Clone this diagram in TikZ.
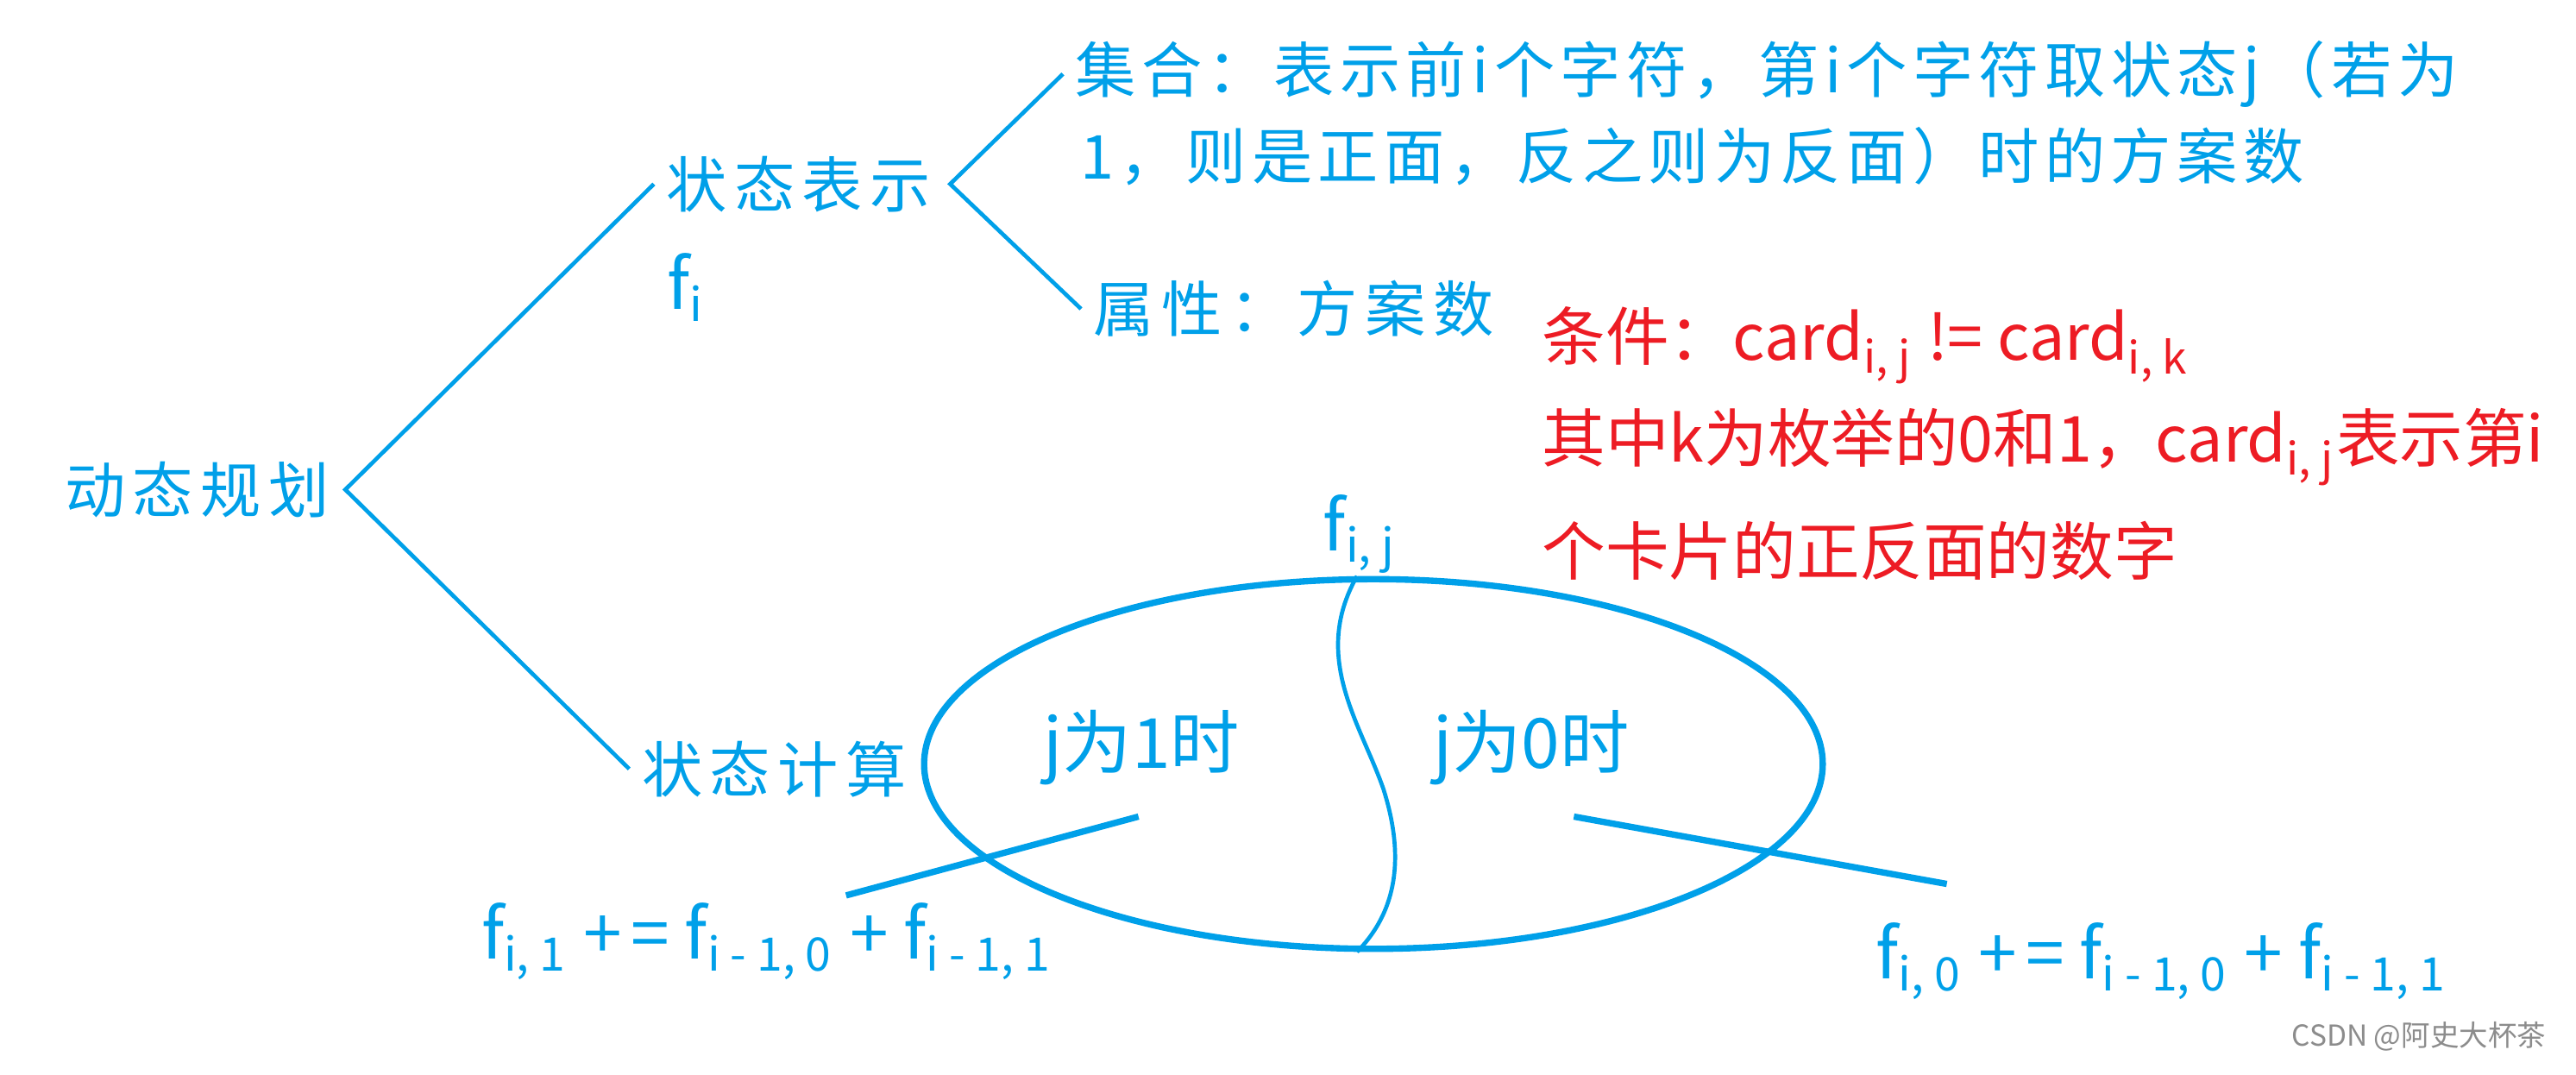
\documentclass[tikz,border=0pt]{standalone}
\usepackage{fontspec}
\setmainfont{Noto Sans CJK SC}
\newfontfamily\kai[LetterSpace=12]{Noto Sans CJK SC}
\newfontfamily\kaitight[LetterSpace=9]{Noto Sans CJK SC}
\usetikzlibrary{positioning,calc,shapes.geometric}
\definecolor{skyblue}{RGB}{0,160,233}
\definecolor{cardred}{RGB}{237,28,36}
\newcommand{\fsub}[1]{\textsubscript{#1}}

\begin{document}
\begin{tikzpicture}[
  x=0.1mm, y=-0.1mm,
  kai/.style    = {text=skyblue, font=\kai\fontsize{10.5}{13}\selectfont, inner sep=2pt},
  kaiset/.style = {kai, font=\kaitight\fontsize{10.5}{13}\selectfont, anchor=west},
  frm/.style    = {text=skyblue, font=\fontsize{12}{14}\selectfont, inner sep=1pt},
  jtext/.style  = {text=skyblue, font=\fontsize{12}{14}\selectfont, inner sep=1pt},
  note/.style   = {text=cardred, font=\fontsize{11}{14}\selectfont, inner sep=0pt, anchor=west},
  branch/.style = {draw=skyblue, line width=0.7pt},
  link/.style   = {draw=skyblue, line width=1.1pt},
]
\useasboundingbox (0,0) rectangle (1568,654);
\node[kai] (dp) at (120,298) {动态规划};
\node[kai, anchor=west] (rep)  at (398,112) {状态表示};
\node[kai, anchor=west] (calc) at (383,468) {状态计算};
\node[frm, anchor=north west] (fi) at (402,150) {f\fsub{i}};
\node[kaiset] (set1) at (647,45) {集合：表示前i个字符，第i个字符取状态j（若为};
\node[kaiset] (set2) at (650,95) {1，则是正面，反之则为反面）时的方案数};
\node[kai, anchor=west] (attr) at (658,188) {属性：方案数};
\draw[branch] (rep.west) -- ($(dp.east)+(2,0)$) -- (calc.west);
\draw[branch] (set1.west) -- ($(rep.east)+(4,0)$) -- (attr.west);

\node[note] (cond) at (938,210) {条件：card\fsub{i, j} != card\fsub{i, k}};
\node[note] (enum) at (938,272) {其中k为枚举的0和1，card\fsub{i, j}表示第i};
\node[note] (face) at (938,335) {个卡片的正反面的数字};

\node[draw=skyblue, line width=1.1pt, ellipse, inner sep=0pt,
      minimum width=54.7mm, minimum height=22.5mm] (oval) at (836,465) {};
\node[frm] (fij) at (828,325) {f\fsub{i, j}};
\draw[branch] (oval.95) .. controls (798,400) and (828,440) .. (842,480)
              .. controls (858,530) and (845,560) .. (oval.265);
\node[jtext] (j1) at (695,455) {j为1时};
\node[jtext] (j0) at (932,455) {j为0时};

\node[frm] (f1) at (467,573) {f\fsub{i, 1} +\kern1.5pt= f\fsub{i - 1, 0} + f\fsub{i - 1, 1}};
\node[frm] (f0) at (1316,585) {f\fsub{i, 0} +\kern1.5pt= f\fsub{i - 1, 0} + f\fsub{i - 1, 1}};
\coordinate (j1foot) at (693,497);
\coordinate (f1top)  at (515,545);
\coordinate (j0foot) at (958,497);
\coordinate (f0top)  at (1185,538);
\draw[link] (j1foot) -- (f1top);
\draw[link] (j0foot) -- (f0top);

\node[text=black!45, font=\fontsize{5}{6}\selectfont, anchor=south east] (mark) at (1562,652) {CSDN @阿史大杯茶};
\end{tikzpicture}
\end{document}
